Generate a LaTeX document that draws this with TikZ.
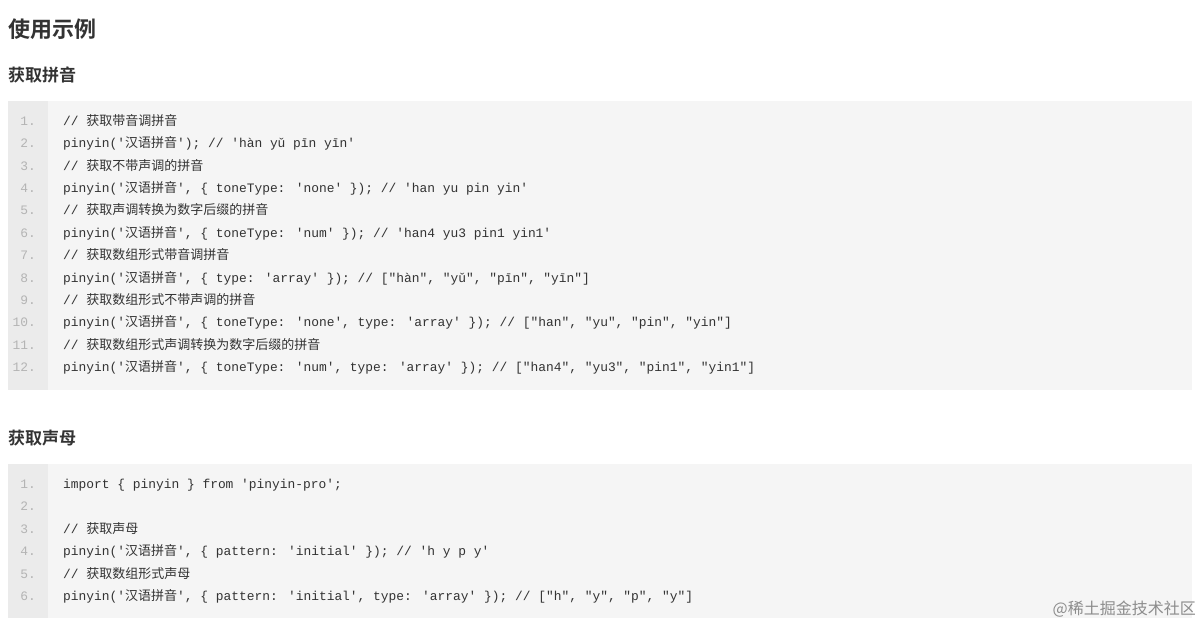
\documentclass[tikz,border=0pt]{standalone}
\usepackage{fontspec}
\setmainfont{Noto Sans CJK SC}
\newfontfamily\cjk{Noto Sans CJK SC}
\newfontfamily\cjkb{Noto Sans CJK SC Bold}
\newfontfamily\monof{Liberation Mono}
\definecolor{txt}{HTML}{333333}
\definecolor{codebg}{HTML}{F5F5F5}
\definecolor{gut}{HTML}{EBEBEB}
\definecolor{num}{HTML}{B4B4B4}
\newcommand{\C}[1]{{\cjk\fontsize{13}{13}\selectfont #1}}
\begin{document}
\begin{tikzpicture}[x=1pt,y=-1pt,
  code/.style={anchor=base west,inner sep=0pt,text=txt,font=\monof\fontsize{12.9}{13}\selectfont},
  lnum/.style={anchor=base east,inner sep=0pt,text=num,font=\monof\fontsize{12.9}{13}\selectfont},
  head/.style={anchor=west,inner sep=0pt,text=txt,font=\cjkb}]
\useasboundingbox (0,0) rectangle (1203,627);
\fill[white] (0,0) rectangle (1203,627);
\node[head,font=\cjkb\fontsize{22}{22}\selectfont] (t) at (8,29) {使用示例};
\node[head,font=\cjkb\fontsize{17}{17}\selectfont] (h1) at (8,75) {获取拼音};
\node[head,font=\cjkb\fontsize{17}{17}\selectfont] (h2) at (8,438) {获取声母};
\fill[codebg] (8,101) rectangle (1192,390);
\fill[gut] (8,101) rectangle (48,390);
\fill[codebg] (8,464) rectangle (1192,618);
\fill[gut] (8,464) rectangle (48,618);
\foreach \i/\t in {
 1/{// \C{获取带音调拼音}},
 2/{pinyin('\C{汉语拼音}'); // 'hàn yǔ pīn yīn'},
 3/{// \C{获取不带声调的拼音}},
 4/{pinyin('\C{汉语拼音}', \{ toneType: 'none' \}); // 'han yu pin yin'},
 5/{// \C{获取声调转换为数字后缀的拼音}},
 6/{pinyin('\C{汉语拼音}', \{ toneType: 'num' \}); // 'han4 yu3 pin1 yin1'},
 7/{// \C{获取数组形式带音调拼音}},
 8/{pinyin('\C{汉语拼音}', \{ type: 'array' \}); // ["hàn", "yǔ", "pīn", "yīn"]},
 9/{// \C{获取数组形式不带声调的拼音}},
 10/{pinyin('\C{汉语拼音}', \{ toneType: 'none', type: 'array' \}); // ["han", "yu", "pin", "yin"]},
 11/{// \C{获取数组形式声调转换为数字后缀的拼音}},
 12/{pinyin('\C{汉语拼音}', \{ toneType: 'num', type: 'array' \}); // ["han4", "yu3", "pin1", "yin1"]}} {
  \pgfmathsetmacro\yy{121+(\i-1)*22.36+4.5}
  \node[lnum] (n\i) at (36,\yy) {\i.};
  \node[code] (l\i) at (63,\yy) {\t};
}
\foreach \i/\t in {
 1/{import \{ pinyin \} from 'pinyin-pro';},
 2/{},
 3/{// \C{获取声母}},
 4/{pinyin('\C{汉语拼音}', \{ pattern: 'initial' \}); // 'h y p y'},
 5/{// \C{获取数组形式声母}},
 6/{pinyin('\C{汉语拼音}', \{ pattern: 'initial', type: 'array' \}); // ["h", "y", "p", "y"]}} {
  \pgfmathsetmacro\yy{484+(\i-1)*22.4+4.5}
  \node[lnum] (p\i) at (36,\yy) {\i.};
  \node[code] (m\i) at (63,\yy) {\t};
}
\node[anchor=east,inner sep=0pt,text=black!45,font=\cjk\fontsize{16}{16}\selectfont] (wm) at (1196,609) {@稀土掘金技术社区};
\end{tikzpicture}
\end{document}
